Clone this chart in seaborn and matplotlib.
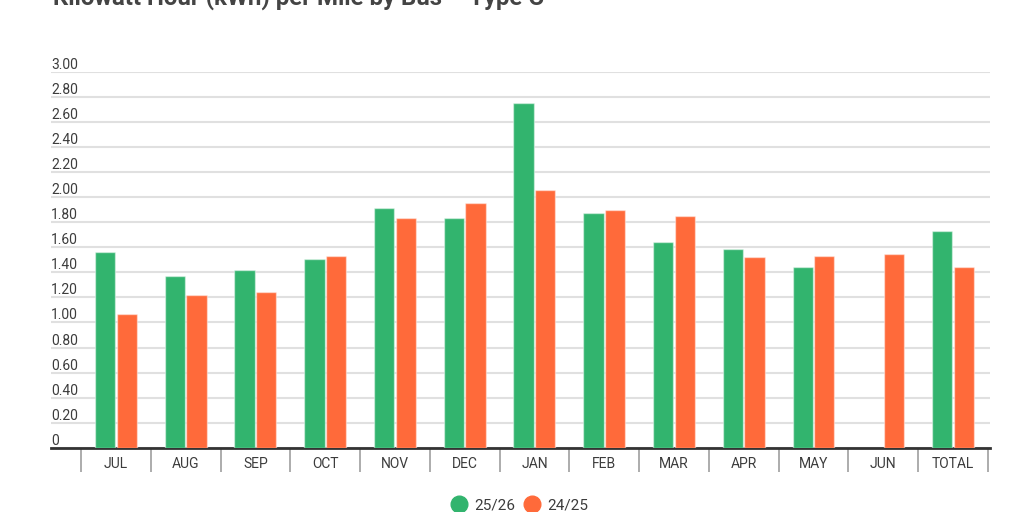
import numpy as np
import pandas as pd
import matplotlib
matplotlib.use("Agg")
import matplotlib.pyplot as plt
from matplotlib.lines import Line2D
import seaborn as sns

# -------- data --------
months = ["JUL", "AUG", "SEP", "OCT", "NOV", "DEC", "JAN", "FEB", "MAR", "APR", "MAY", "JUN", "TOTAL"]
kwh_2526 = [1.56, 1.37, 1.42, 1.51, 1.91, 1.83, 2.75, 1.87, 1.64, 1.59, 1.44, np.nan, 1.73]
kwh_2425 = [1.07, 1.22, 1.24, 1.53, 1.83, 1.95, 2.06, 1.90, 1.85, 1.52, 1.53, 1.55, 1.44]
seasons = ["25/26", "24/25"]
colors = ["#32B46E", "#FF6A3A"]
yticks = [0, 0.2, 0.4, 0.6, 0.8, 1.0, 1.2, 1.4, 1.6, 1.8, 2.0, 2.2, 2.4, 2.6, 2.8, 3.0]
ytick_labels = ["0"] + [f"{v:.2f}" for v in yticks[1:]]
title = "Kilowatt Hour (kWh) per Mile by Bus \u2013 Type C"

df = pd.DataFrame({
    "Month": months * 2,
    "Season": [seasons[0]] * len(months) + [seasons[1]] * len(months),
    "kWh": kwh_2526 + kwh_2425,
})

# -------- style --------
sns.set_theme(style="white")
plt.rcParams["font.family"] = ["Roboto", "DejaVu Sans"]
text_col = "#3c3c3c"

fig = plt.figure(figsize=(10.24, 5.12), dpi=100)
ax = fig.add_axes([51 / 1024, 1 - 447.7 / 512, (990 - 51) / 1024, (447.7 - 71.7) / 512])

sns.barplot(data=df, x="Month", y="kWh", hue="Season", order=months, hue_order=seasons,
            palette=colors, saturation=1, width=0.62, gap=0.06, dodge=True, ax=ax,
            edgecolor=(1, 1, 1, 0.45), linewidth=1.0, legend=False, zorder=3)

ax.set_xlim(-0.93, 12.53)
ax.set_ylim(0, 3.002)
ax.set_xlabel("")
ax.set_ylabel("")

# gridlines
ax.set_yticks(yticks)
ax.set_yticklabels(ytick_labels)
ax.grid(axis="y", color="#e0e0e0", linewidth=1.5, zorder=0)
ax.grid(axis="x", visible=False)
ax.tick_params(axis="y", left=False, length=0, pad=0, labelsize=10, labelcolor=text_col)
for lbl in ax.get_yticklabels():
    lbl.set_horizontalalignment("left")
    lbl.set_verticalalignment("bottom")

# category separators below the axis
ax.set_xticks(np.arange(len(months)))
ax.set_xticklabels(months)
ax.set_xticks(np.arange(-0.5, len(months)), minor=True)
ax.tick_params(axis="x", which="major", bottom=False, length=0, pad=7, labelsize=10, labelcolor=text_col)
ax.tick_params(axis="x", which="minor", bottom=True, length=17, width=1.2, color="#9e9e9e", direction="out")

for s in ["top", "right", "left"]:
    ax.spines[s].set_visible(False)
ax.spines["bottom"].set_color("#333333")
ax.spines["bottom"].set_linewidth(2)

# title (cropped at top in reference)
fig.text(53 / 1024, 1 - 4.5 / 512, title, fontsize=17.3, fontweight="bold",
         color="#444444", ha="left", va="baseline")

# legend with circle markers
handles = [Line2D([], [], marker="o", linestyle="", markersize=12, color=c, label=s)
           for s, c in zip(seasons, colors)]
fig.legend(handles=handles, loc="center", bbox_to_anchor=(519 / 1024, 1 - 505 / 512),
           ncol=2, frameon=False, fontsize=11, labelcolor=text_col,
           handletextpad=0.35, columnspacing=0.55, handlelength=1.2)

fig.savefig("out.png", dpi=100, facecolor="white")
